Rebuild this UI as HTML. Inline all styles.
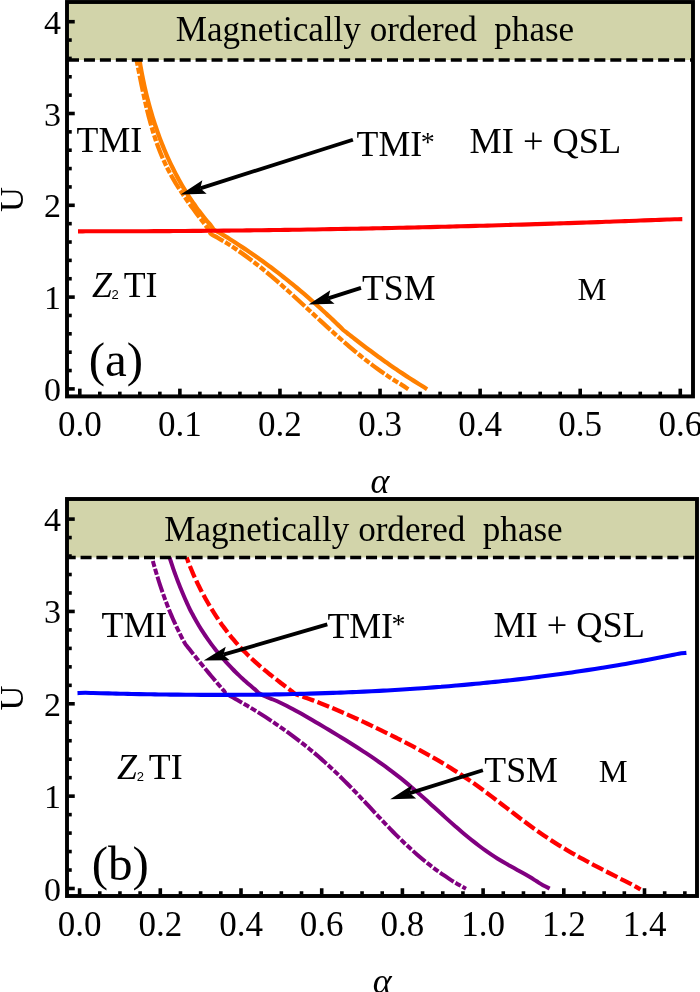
<!DOCTYPE html>
<html><head><meta charset="utf-8"><style>
html,body{margin:0;padding:0;background:#fff;}
body{width:700px;height:992px;overflow:hidden;}
svg{display:block;font-family:"Liberation Serif",serif;will-change:transform;}
</style></head><body>
<svg width="700" height="992" viewBox="0 0 700 992">
<defs>
<clipPath id="ca"><rect x="69" y="4" width="622" height="390.5"/></clipPath>
<clipPath id="cb"><rect x="69" y="501" width="626" height="393"/></clipPath>
</defs>
<rect width="700" height="992" fill="#fff"/>
<rect x="67.00" y="2.00" width="626.00" height="58.00" fill="#d2d4aa"/>
<g clip-path="url(#ca)">
<path d="M136.60,60.00 C136.75,60.78 137.19,63.11 137.49,64.67 C137.80,66.23 138.11,67.79 138.42,69.35 C138.73,70.91 139.04,72.47 139.36,74.04 C139.67,75.60 139.98,77.17 140.30,78.74 C140.61,80.31 140.93,81.88 141.25,83.45 C141.57,85.02 141.90,86.60 142.23,88.17 C142.55,89.74 142.89,91.32 143.22,92.89 C143.56,94.46 143.90,96.03 144.25,97.61 C144.59,99.18 144.95,100.75 145.30,102.32 C145.66,103.89 146.03,105.46 146.40,107.03 C146.77,108.59 147.15,110.16 147.54,111.72 C147.93,113.29 148.32,114.85 148.72,116.40 C149.13,117.96 149.54,119.52 149.96,121.07 C150.38,122.62 150.82,124.17 151.26,125.71 C151.70,127.26 152.15,128.80 152.62,130.33 C153.08,131.87 153.55,133.40 154.04,134.93 C154.53,136.45 155.03,137.98 155.54,139.49 C156.05,141.01 156.57,142.52 157.11,144.02 C157.65,145.53 158.20,147.02 158.77,148.52 C159.33,150.01 159.91,151.49 160.51,152.97 C161.10,154.45 161.71,155.92 162.34,157.38 C162.97,158.84 163.61,160.30 164.27,161.74 C164.93,163.19 165.61,164.63 166.30,166.06 C167.00,167.49 167.71,168.91 168.44,170.32 C169.17,171.73 169.92,173.13 170.69,174.53 C171.45,175.92 172.23,177.31 173.03,178.68 C173.83,180.06 174.64,181.43 175.47,182.79 C176.29,184.15 177.14,185.51 177.99,186.86 C178.84,188.20 179.71,189.55 180.59,190.88 C181.46,192.22 182.35,193.54 183.25,194.87 C184.15,196.19 185.05,197.51 185.97,198.82 C186.89,200.14 187.81,201.44 188.74,202.75 C189.67,204.05 190.61,205.35 191.55,206.65 C192.50,207.94 193.45,209.23 194.40,210.52 C195.35,211.81 196.31,213.10 197.27,214.38 C198.23,215.67 199.19,216.95 200.15,218.23 C201.12,219.51 202.08,220.78 203.05,222.06 C204.01,223.34 204.98,224.61 205.94,225.89 C206.90,227.16 207.98,228.36 208.82,229.71 C209.67,231.06 209.56,232.69 211.00,234.00 C212.44,235.31 215.34,236.33 217.49,237.56 C219.64,238.78 221.78,240.06 223.90,241.36 C226.01,242.65 228.11,243.96 230.19,245.30 C232.26,246.65 234.32,248.01 236.36,249.40 C238.40,250.78 240.42,252.19 242.43,253.62 C244.44,255.05 246.43,256.50 248.40,257.97 C250.38,259.44 252.34,260.93 254.29,262.43 C256.24,263.94 258.17,265.46 260.09,267.00 C262.01,268.53 263.92,270.09 265.82,271.65 C267.72,273.22 269.61,274.80 271.49,276.39 C273.37,277.98 275.23,279.59 277.09,281.20 C278.96,282.82 280.81,284.44 282.65,286.08 C284.50,287.71 286.34,289.35 288.17,291.00 C290.00,292.65 291.83,294.31 293.66,295.97 C295.48,297.63 297.30,299.30 299.12,300.97 C300.93,302.64 302.74,304.32 304.56,306.00 C306.37,307.67 308.18,309.35 309.99,311.03 C311.80,312.71 313.61,314.39 315.42,316.07 C317.23,317.75 319.04,319.43 320.86,321.10 C322.67,322.77 324.49,324.45 326.31,326.11 C328.13,327.78 329.96,329.44 331.79,331.10 C333.62,332.75 335.45,334.40 337.29,336.04 C339.13,337.69 340.98,339.32 342.83,340.94 C344.69,342.57 346.55,344.18 348.42,345.78 C350.30,347.39 352.18,348.98 354.07,350.56 C355.96,352.13 357.86,353.70 359.78,355.25 C361.69,356.80 363.61,358.34 365.55,359.86 C367.49,361.37 369.44,362.88 371.41,364.36 C373.37,365.85 375.35,367.32 377.35,368.76 C379.34,370.21 381.36,371.64 383.38,373.04 C385.41,374.45 387.46,375.83 389.52,377.20 C391.59,378.56 393.67,379.90 395.77,381.21 C397.87,382.52 400.05,383.74 402.13,385.07 C404.22,386.41 407.27,388.51 408.30,389.20" fill="none" stroke="#ff8000" stroke-width="4.3" stroke-dasharray="6.2 2 6.2 2 16.4 2" stroke-dashoffset="0.5"/>
<path d="M139.50,60.00 C139.62,60.77 139.97,63.09 140.23,64.63 C140.48,66.16 140.76,67.70 141.04,69.23 C141.32,70.76 141.61,72.30 141.91,73.83 C142.20,75.36 142.51,76.90 142.82,78.43 C143.13,79.96 143.45,81.49 143.78,83.02 C144.11,84.55 144.44,86.07 144.79,87.60 C145.13,89.13 145.49,90.65 145.85,92.18 C146.21,93.70 146.58,95.22 146.96,96.74 C147.34,98.26 147.73,99.78 148.13,101.30 C148.52,102.81 148.93,104.33 149.34,105.84 C149.76,107.35 150.18,108.86 150.62,110.36 C151.05,111.87 151.49,113.37 151.94,114.88 C152.39,116.38 152.85,117.88 153.32,119.37 C153.79,120.87 154.27,122.36 154.76,123.85 C155.25,125.34 155.74,126.82 156.25,128.30 C156.76,129.79 157.27,131.27 157.80,132.74 C158.33,134.21 158.86,135.69 159.41,137.15 C159.95,138.62 160.51,140.08 161.08,141.54 C161.64,143.00 162.22,144.46 162.80,145.91 C163.39,147.36 163.98,148.80 164.59,150.24 C165.20,151.69 165.81,153.12 166.44,154.55 C167.07,155.99 167.70,157.41 168.35,158.83 C169.00,160.26 169.65,161.67 170.32,163.08 C170.99,164.49 171.67,165.90 172.36,167.30 C173.05,168.70 173.75,170.10 174.46,171.48 C175.17,172.87 175.89,174.26 176.63,175.63 C177.36,177.01 178.10,178.38 178.86,179.74 C179.61,181.11 180.38,182.47 181.15,183.82 C181.93,185.17 182.72,186.51 183.52,187.85 C184.32,189.19 185.13,190.52 185.95,191.85 C186.78,193.17 187.61,194.49 188.46,195.80 C189.30,197.11 190.16,198.41 191.03,199.71 C191.90,201.00 192.78,202.29 193.67,203.57 C194.56,204.85 195.47,206.12 196.38,207.39 C197.30,208.65 198.23,209.91 199.17,211.16 C200.11,212.40 201.06,213.64 202.03,214.88 C202.99,216.11 203.97,217.33 204.96,218.55 C205.95,219.76 206.95,220.97 207.96,222.16 C208.98,223.36 210.07,224.51 211.04,225.73 C212.01,226.95 212.64,228.48 213.80,229.50 C214.96,230.52 216.62,231.07 218.01,231.88 C219.40,232.69 220.78,233.53 222.15,234.37 C223.53,235.21 224.91,236.05 226.28,236.90 C227.65,237.74 229.01,238.60 230.38,239.46 C231.74,240.31 233.10,241.18 234.46,242.05 C235.81,242.92 237.16,243.79 238.51,244.68 C239.86,245.56 241.21,246.44 242.55,247.33 C243.89,248.23 245.23,249.12 246.56,250.03 C247.89,250.93 249.22,251.84 250.55,252.75 C251.88,253.66 253.20,254.58 254.52,255.50 C255.84,256.43 257.16,257.35 258.47,258.29 C259.78,259.22 261.09,260.16 262.39,261.10 C263.70,262.05 265.00,263.00 266.30,263.95 C267.59,264.90 268.89,265.86 270.18,266.83 C271.47,267.79 272.76,268.76 274.04,269.73 C275.32,270.70 276.60,271.68 277.88,272.66 C279.15,273.65 280.42,274.63 281.69,275.63 C282.96,276.62 284.23,277.62 285.49,278.62 C286.75,279.62 288.01,280.62 289.26,281.63 C290.51,282.65 291.77,283.66 293.01,284.68 C294.26,285.70 295.50,286.72 296.74,287.75 C297.98,288.78 299.22,289.81 300.45,290.85 C301.68,291.89 302.91,292.93 304.14,293.97 C305.36,295.02 306.58,296.07 307.80,297.12 C309.02,298.18 310.23,299.24 311.44,300.30 C312.65,301.36 313.86,302.43 315.06,303.50 C316.27,304.57 317.47,305.64 318.66,306.72 C319.86,307.80 321.05,308.88 322.24,309.97 C323.43,311.06 324.62,312.15 325.80,313.24 C326.98,314.34 328.16,315.43 329.33,316.54 C330.51,317.64 331.68,318.74 332.85,319.85 C334.02,320.96 335.18,322.08 336.34,323.19 C337.50,324.31 338.67,325.42 339.81,326.55 C340.95,327.69 341.98,328.93 343.20,330.00 C344.42,331.07 345.82,331.95 347.11,332.95 C348.40,333.95 349.67,334.98 350.95,335.98 C352.23,336.99 353.52,338.00 354.81,339.00 C356.10,340.00 357.39,341.00 358.68,342.00 C359.97,342.99 361.27,343.98 362.56,344.97 C363.86,345.96 365.16,346.94 366.46,347.92 C367.77,348.90 369.07,349.88 370.38,350.85 C371.69,351.83 373.00,352.80 374.31,353.76 C375.63,354.73 376.94,355.69 378.26,356.64 C379.58,357.60 380.90,358.55 382.23,359.50 C383.55,360.45 384.88,361.39 386.21,362.33 C387.54,363.27 388.88,364.21 390.22,365.14 C391.55,366.07 392.89,367.00 394.24,367.92 C395.58,368.84 396.93,369.76 398.28,370.67 C399.63,371.58 400.99,372.49 402.34,373.39 C403.70,374.29 405.06,375.19 406.43,376.09 C407.79,376.98 409.16,377.87 410.53,378.75 C411.90,379.63 413.28,380.51 414.66,381.38 C416.04,382.25 417.42,383.12 418.81,383.98 C420.19,384.85 421.60,385.68 422.98,386.55 C424.36,387.42 426.41,388.76 427.10,389.20" fill="none" stroke="#ff8000" stroke-width="4.3"/>
<path d="M78.00,231.40 C79.28,231.39 83.10,231.33 85.65,231.31 C88.20,231.30 90.75,231.31 93.30,231.31 C95.85,231.31 98.40,231.31 100.95,231.31 C103.50,231.31 106.06,231.31 108.61,231.30 C111.16,231.30 113.71,231.29 116.26,231.29 C118.81,231.28 121.36,231.28 123.91,231.27 C126.46,231.27 129.01,231.26 131.56,231.25 C134.11,231.24 136.66,231.23 139.21,231.23 C141.76,231.22 144.31,231.21 146.86,231.20 C149.42,231.18 151.97,231.17 154.52,231.16 C157.07,231.15 159.62,231.14 162.17,231.12 C164.72,231.11 167.27,231.09 169.82,231.08 C172.37,231.06 174.92,231.05 177.47,231.03 C180.02,231.01 182.57,231.00 185.12,230.98 C187.67,230.96 190.22,230.94 192.77,230.92 C195.32,230.90 197.87,230.88 200.43,230.86 C202.98,230.84 205.53,230.82 208.08,230.79 C210.63,230.77 213.18,230.75 215.73,230.72 C218.28,230.70 220.83,230.68 223.38,230.65 C225.93,230.63 228.48,230.60 231.03,230.57 C233.58,230.55 236.13,230.52 238.68,230.49 C241.23,230.46 243.78,230.43 246.33,230.40 C248.88,230.37 251.43,230.34 253.98,230.31 C256.53,230.28 259.08,230.25 261.63,230.22 C264.18,230.18 266.73,230.15 269.28,230.12 C271.83,230.08 274.38,230.05 276.93,230.01 C279.48,229.98 282.03,229.94 284.58,229.91 C287.13,229.87 289.69,229.83 292.24,229.79 C294.79,229.76 297.34,229.72 299.89,229.68 C302.44,229.64 304.99,229.60 307.54,229.56 C310.09,229.52 312.64,229.47 315.19,229.43 C317.74,229.39 320.29,229.35 322.84,229.30 C325.39,229.26 327.94,229.22 330.49,229.17 C333.04,229.13 335.59,229.08 338.14,229.03 C340.69,228.99 343.24,228.94 345.79,228.89 C348.34,228.85 350.89,228.80 353.44,228.75 C355.99,228.70 358.54,228.65 361.09,228.60 C363.64,228.55 366.19,228.50 368.74,228.45 C371.29,228.40 373.84,228.34 376.39,228.29 C378.94,228.24 381.49,228.18 384.04,228.13 C386.58,228.08 389.13,228.02 391.68,227.97 C394.23,227.91 396.78,227.85 399.33,227.80 C401.88,227.74 404.43,227.68 406.98,227.62 C409.53,227.57 412.08,227.51 414.63,227.45 C417.18,227.39 419.73,227.33 422.28,227.27 C424.83,227.21 427.38,227.15 429.93,227.08 C432.48,227.02 435.03,226.96 437.58,226.90 C440.13,226.83 442.68,226.77 445.23,226.70 C447.78,226.64 450.33,226.57 452.88,226.51 C455.43,226.44 457.98,226.38 460.53,226.31 C463.08,226.24 465.63,226.17 468.17,226.11 C470.72,226.04 473.27,225.97 475.82,225.90 C478.37,225.83 480.92,225.76 483.47,225.69 C486.02,225.62 488.57,225.54 491.12,225.47 C493.67,225.40 496.22,225.33 498.77,225.25 C501.32,225.18 503.87,225.11 506.42,225.03 C508.97,224.96 511.51,224.88 514.06,224.81 C516.61,224.73 519.16,224.65 521.71,224.58 C524.26,224.50 526.81,224.42 529.36,224.34 C531.91,224.27 534.46,224.19 537.01,224.11 C539.56,224.03 542.11,223.95 544.66,223.87 C547.20,223.79 549.75,223.71 552.30,223.62 C554.85,223.54 557.40,223.46 559.95,223.38 C562.50,223.29 565.05,223.21 567.60,223.12 C570.15,223.04 572.70,222.96 575.25,222.87 C577.79,222.78 580.34,222.70 582.89,222.61 C585.44,222.52 587.99,222.44 590.54,222.35 C593.09,222.26 595.64,222.17 598.19,222.08 C600.74,222.00 603.28,221.91 605.83,221.82 C608.38,221.73 610.93,221.63 613.48,221.54 C616.03,221.45 618.58,221.36 621.13,221.27 C623.68,221.17 626.22,221.08 628.77,220.99 C631.32,220.89 633.87,220.80 636.42,220.71 C638.97,220.61 641.52,220.52 644.07,220.42 C646.61,220.32 649.16,220.23 651.71,220.13 C654.26,220.03 656.81,219.94 659.36,219.84 C661.91,219.74 664.46,219.64 667.00,219.54 C669.55,219.44 672.10,219.31 674.65,219.24 C677.20,219.17 681.02,219.12 682.30,219.10" fill="none" stroke="#ff0000" stroke-width="4.1"/>
</g>
<line x1="68.00" y1="60.00" x2="693.00" y2="60.00" stroke="#000" stroke-width="3.30" stroke-dasharray="11 4.95" stroke-dashoffset="0.00"/>
<line x1="79.80" y1="394.95" x2="79.80" y2="388.65" stroke="#000" stroke-width="3.60"/>
<line x1="99.82" y1="394.95" x2="99.82" y2="391.65" stroke="#000" stroke-width="3.60"/>
<line x1="119.83" y1="394.95" x2="119.83" y2="391.65" stroke="#000" stroke-width="3.60"/>
<line x1="139.85" y1="394.95" x2="139.85" y2="391.65" stroke="#000" stroke-width="3.60"/>
<line x1="159.86" y1="394.95" x2="159.86" y2="391.65" stroke="#000" stroke-width="3.60"/>
<line x1="179.88" y1="394.95" x2="179.88" y2="388.65" stroke="#000" stroke-width="3.60"/>
<line x1="199.90" y1="394.95" x2="199.90" y2="391.65" stroke="#000" stroke-width="3.60"/>
<line x1="219.91" y1="394.95" x2="219.91" y2="391.65" stroke="#000" stroke-width="3.60"/>
<line x1="239.93" y1="394.95" x2="239.93" y2="391.65" stroke="#000" stroke-width="3.60"/>
<line x1="259.94" y1="394.95" x2="259.94" y2="391.65" stroke="#000" stroke-width="3.60"/>
<line x1="279.96" y1="394.95" x2="279.96" y2="388.65" stroke="#000" stroke-width="3.60"/>
<line x1="299.98" y1="394.95" x2="299.98" y2="391.65" stroke="#000" stroke-width="3.60"/>
<line x1="319.99" y1="394.95" x2="319.99" y2="391.65" stroke="#000" stroke-width="3.60"/>
<line x1="340.01" y1="394.95" x2="340.01" y2="391.65" stroke="#000" stroke-width="3.60"/>
<line x1="360.02" y1="394.95" x2="360.02" y2="391.65" stroke="#000" stroke-width="3.60"/>
<line x1="380.04" y1="394.95" x2="380.04" y2="388.65" stroke="#000" stroke-width="3.60"/>
<line x1="400.06" y1="394.95" x2="400.06" y2="391.65" stroke="#000" stroke-width="3.60"/>
<line x1="420.07" y1="394.95" x2="420.07" y2="391.65" stroke="#000" stroke-width="3.60"/>
<line x1="440.09" y1="394.95" x2="440.09" y2="391.65" stroke="#000" stroke-width="3.60"/>
<line x1="460.10" y1="394.95" x2="460.10" y2="391.65" stroke="#000" stroke-width="3.60"/>
<line x1="480.12" y1="394.95" x2="480.12" y2="388.65" stroke="#000" stroke-width="3.60"/>
<line x1="500.14" y1="394.95" x2="500.14" y2="391.65" stroke="#000" stroke-width="3.60"/>
<line x1="520.15" y1="394.95" x2="520.15" y2="391.65" stroke="#000" stroke-width="3.60"/>
<line x1="540.17" y1="394.95" x2="540.17" y2="391.65" stroke="#000" stroke-width="3.60"/>
<line x1="560.18" y1="394.95" x2="560.18" y2="391.65" stroke="#000" stroke-width="3.60"/>
<line x1="580.20" y1="394.95" x2="580.20" y2="388.65" stroke="#000" stroke-width="3.60"/>
<line x1="600.22" y1="394.95" x2="600.22" y2="391.65" stroke="#000" stroke-width="3.60"/>
<line x1="620.23" y1="394.95" x2="620.23" y2="391.65" stroke="#000" stroke-width="3.60"/>
<line x1="640.25" y1="394.95" x2="640.25" y2="391.65" stroke="#000" stroke-width="3.60"/>
<line x1="660.26" y1="394.95" x2="660.26" y2="391.65" stroke="#000" stroke-width="3.60"/>
<line x1="680.28" y1="394.95" x2="680.28" y2="388.65" stroke="#000" stroke-width="3.60"/>
<line x1="68.45" y1="388.90" x2="74.75" y2="388.90" stroke="#000" stroke-width="3.60"/>
<line x1="68.45" y1="370.54" x2="71.75" y2="370.54" stroke="#000" stroke-width="3.60"/>
<line x1="68.45" y1="352.18" x2="71.75" y2="352.18" stroke="#000" stroke-width="3.60"/>
<line x1="68.45" y1="333.82" x2="71.75" y2="333.82" stroke="#000" stroke-width="3.60"/>
<line x1="68.45" y1="315.46" x2="71.75" y2="315.46" stroke="#000" stroke-width="3.60"/>
<line x1="68.45" y1="297.10" x2="74.75" y2="297.10" stroke="#000" stroke-width="3.60"/>
<line x1="68.45" y1="278.74" x2="71.75" y2="278.74" stroke="#000" stroke-width="3.60"/>
<line x1="68.45" y1="260.38" x2="71.75" y2="260.38" stroke="#000" stroke-width="3.60"/>
<line x1="68.45" y1="242.02" x2="71.75" y2="242.02" stroke="#000" stroke-width="3.60"/>
<line x1="68.45" y1="223.66" x2="71.75" y2="223.66" stroke="#000" stroke-width="3.60"/>
<line x1="68.45" y1="205.30" x2="74.75" y2="205.30" stroke="#000" stroke-width="3.60"/>
<line x1="68.45" y1="186.94" x2="71.75" y2="186.94" stroke="#000" stroke-width="3.60"/>
<line x1="68.45" y1="168.58" x2="71.75" y2="168.58" stroke="#000" stroke-width="3.60"/>
<line x1="68.45" y1="150.22" x2="71.75" y2="150.22" stroke="#000" stroke-width="3.60"/>
<line x1="68.45" y1="131.86" x2="71.75" y2="131.86" stroke="#000" stroke-width="3.60"/>
<line x1="68.45" y1="113.50" x2="74.75" y2="113.50" stroke="#000" stroke-width="3.60"/>
<line x1="68.45" y1="95.14" x2="71.75" y2="95.14" stroke="#000" stroke-width="3.60"/>
<line x1="68.45" y1="76.78" x2="71.75" y2="76.78" stroke="#000" stroke-width="3.60"/>
<line x1="68.45" y1="58.42" x2="71.75" y2="58.42" stroke="#000" stroke-width="3.60"/>
<line x1="68.45" y1="40.06" x2="71.75" y2="40.06" stroke="#000" stroke-width="3.60"/>
<line x1="68.45" y1="21.70" x2="74.75" y2="21.70" stroke="#000" stroke-width="3.60"/>
<rect x="67.00" y="2.00" width="626.00" height="394.40" fill="none" stroke="#000" stroke-width="3.90"/>
<line x1="352.90" y1="139.70" x2="200.23" y2="188.37" stroke="#000" stroke-width="3.80"/><polygon points="180.70,194.60 202.39,180.34 200.23,188.37 206.65,193.68" fill="#000"/>
<line x1="361.00" y1="287.90" x2="328.13" y2="298.38" stroke="#000" stroke-width="3.80"/><polygon points="308.60,304.60 330.29,290.34 328.13,298.38 334.55,303.68" fill="#000"/>
<text x="375.00" y="41.30" font-size="35.10" text-anchor="middle">Magnetically ordered&#160; phase</text>
<text x="76.60" y="152.30" font-size="35.80" text-anchor="start">TMI</text>
<text x="356.60" y="155.50" font-size="35.80" text-anchor="start">TMI<tspan font-size="28" dx="-1.5" dy="-5">*</tspan></text>
<text x="469.50" y="152.60" font-size="36.30" text-anchor="start">MI + QSL</text>
<text x="91.90" y="296.50" font-size="35.80" text-anchor="start"><tspan font-style="italic">Z</tspan></text>
<text x="111.6" y="299.2" font-size="13" font-family="Liberation Sans">2</text>
<text x="123.70" y="296.50" font-size="35.80" text-anchor="start">TI</text>
<text x="362.00" y="299.60" font-size="35.80" text-anchor="start">TSM</text>
<text x="577.50" y="299.60" font-size="32.50" text-anchor="start">M</text>
<text x="88.80" y="375.60" font-size="49.00" text-anchor="start">(a)</text>
<text x="380.00" y="493.00" font-size="36.00" text-anchor="middle"><tspan font-style="italic">&#945;</tspan></text>
<text x="61.00" y="400.90" font-size="34.00" text-anchor="end">0</text>
<text x="61.00" y="309.10" font-size="34.00" text-anchor="end">1</text>
<text x="61.00" y="217.30" font-size="34.00" text-anchor="end">2</text>
<text x="61.00" y="125.50" font-size="34.00" text-anchor="end">3</text>
<text x="61.00" y="33.70" font-size="34.00" text-anchor="end">4</text>
<text x="79.80" y="436.40" font-size="35.00" text-anchor="middle">0.0</text>
<text x="179.88" y="436.40" font-size="35.00" text-anchor="middle">0.1</text>
<text x="279.96" y="436.40" font-size="35.00" text-anchor="middle">0.2</text>
<text x="380.04" y="436.40" font-size="35.00" text-anchor="middle">0.3</text>
<text x="480.12" y="436.40" font-size="35.00" text-anchor="middle">0.4</text>
<text x="580.20" y="436.40" font-size="35.00" text-anchor="middle">0.5</text>
<text x="680.28" y="436.40" font-size="35.00" text-anchor="middle">0.6</text>
<text x="23.2" y="199.4" font-size="34.6" text-anchor="middle" transform="rotate(-90 23.2 199.4)">U</text>
<rect x="67.00" y="499.00" width="630.00" height="58.50" fill="#d2d4aa"/>
<g clip-path="url(#cb)">
<path d="M152.00,557.50 C152.20,558.29 152.78,560.66 153.20,562.24 C153.62,563.81 154.07,565.37 154.51,566.94 C154.96,568.51 155.41,570.07 155.88,571.63 C156.34,573.20 156.81,574.76 157.29,576.32 C157.76,577.87 158.25,579.43 158.75,580.99 C159.24,582.54 159.75,584.09 160.26,585.64 C160.77,587.19 161.29,588.74 161.83,590.28 C162.36,591.82 162.90,593.36 163.45,594.90 C164.00,596.44 164.56,597.97 165.12,599.50 C165.69,601.03 166.27,602.56 166.86,604.08 C167.44,605.60 168.04,607.12 168.65,608.63 C169.26,610.15 169.87,611.66 170.50,613.16 C171.13,614.67 171.76,616.17 172.41,617.67 C173.06,619.16 173.72,620.66 174.39,622.14 C175.05,623.63 175.73,625.11 176.42,626.59 C177.11,628.07 177.81,629.54 178.52,631.00 C179.23,632.47 179.96,633.93 180.69,635.38 C181.42,636.84 182.15,638.29 182.92,639.73 C183.69,641.16 184.55,642.85 185.30,644.00 C186.05,645.15 186.71,645.75 187.41,646.63 C188.11,647.51 188.81,648.40 189.51,649.28 C190.21,650.16 190.91,651.04 191.61,651.92 C192.31,652.80 193.01,653.68 193.71,654.56 C194.42,655.44 195.12,656.31 195.82,657.19 C196.53,658.07 197.24,658.94 197.94,659.82 C198.65,660.69 199.36,661.57 200.07,662.44 C200.77,663.31 201.49,664.19 202.20,665.06 C202.91,665.93 203.62,666.80 204.33,667.67 C205.05,668.54 205.76,669.41 206.48,670.27 C207.20,671.14 207.91,672.01 208.63,672.87 C209.35,673.74 210.07,674.60 210.79,675.46 C211.51,676.32 212.24,677.19 212.96,678.05 C213.69,678.90 214.41,679.76 215.14,680.62 C215.87,681.48 216.60,682.33 217.33,683.19 C218.06,684.04 218.79,684.89 219.52,685.75 C220.26,686.60 220.99,687.45 221.73,688.29 C222.46,689.14 223.23,689.97 223.94,690.83 C224.66,691.70 224.71,692.50 226.00,693.50 C227.29,694.50 229.75,695.76 231.66,696.85 C233.56,697.95 235.51,698.97 237.43,700.05 C239.35,701.13 241.26,702.22 243.17,703.33 C245.07,704.43 246.97,705.55 248.86,706.68 C250.76,707.81 252.65,708.95 254.53,710.11 C256.41,711.26 258.28,712.43 260.15,713.61 C262.01,714.79 263.87,715.98 265.73,717.18 C267.58,718.38 269.43,719.60 271.26,720.82 C273.10,722.05 274.93,723.29 276.76,724.54 C278.58,725.78 280.40,727.05 282.20,728.32 C284.01,729.59 285.81,730.87 287.60,732.17 C289.39,733.47 291.17,734.77 292.94,736.09 C294.71,737.41 296.48,738.74 298.23,740.09 C299.98,741.43 301.73,742.79 303.46,744.16 C305.19,745.52 306.92,746.90 308.63,748.30 C310.34,749.69 312.04,751.09 313.73,752.51 C315.42,753.93 317.10,755.36 318.77,756.80 C320.44,758.25 322.09,759.70 323.74,761.17 C325.38,762.64 327.01,764.12 328.64,765.61 C330.26,767.10 331.87,768.60 333.47,770.12 C335.07,771.63 336.66,773.15 338.24,774.69 C339.82,776.22 341.40,777.77 342.96,779.32 C344.53,780.87 346.08,782.43 347.63,784.00 C349.18,785.56 350.72,787.14 352.26,788.72 C353.80,790.30 355.33,791.89 356.85,793.48 C358.38,795.08 359.90,796.67 361.41,798.28 C362.93,799.88 364.44,801.49 365.95,803.10 C367.46,804.71 368.96,806.33 370.47,807.94 C371.97,809.55 373.48,811.17 374.98,812.78 C376.49,814.40 377.99,816.01 379.50,817.62 C381.01,819.23 382.52,820.84 384.04,822.44 C385.56,824.04 387.08,825.64 388.61,827.23 C390.14,828.82 391.67,830.40 393.22,831.98 C394.76,833.55 396.32,835.12 397.88,836.67 C399.45,838.22 401.02,839.76 402.61,841.29 C404.20,842.82 405.79,844.34 407.41,845.84 C409.02,847.34 410.65,848.83 412.28,850.30 C413.92,851.77 415.57,853.23 417.24,854.67 C418.91,856.11 420.59,857.54 422.28,858.95 C423.98,860.36 425.68,861.75 427.41,863.12 C429.13,864.49 430.87,865.85 432.63,867.18 C434.38,868.51 436.15,869.83 437.94,871.12 C439.73,872.42 441.53,873.69 443.35,874.94 C445.17,876.19 447.01,877.42 448.86,878.63 C450.72,879.83 452.59,881.02 454.48,882.18 C456.37,883.34 458.29,884.48 460.21,885.59 C462.13,886.69 465.03,888.26 466.00,888.80" fill="none" stroke="#800080" stroke-width="4.0" stroke-dasharray="6.2 2 6.2 2 16.4 2" stroke-dashoffset="-3.5"/>
<path d="M169.60,557.50 C169.75,557.97 170.19,559.39 170.49,560.34 C170.79,561.28 171.09,562.22 171.40,563.16 C171.71,564.11 172.02,565.05 172.33,565.98 C172.65,566.92 172.97,567.86 173.29,568.80 C173.62,569.73 173.94,570.67 174.27,571.60 C174.61,572.53 174.94,573.46 175.28,574.39 C175.62,575.32 175.96,576.25 176.31,577.18 C176.65,578.11 177.00,579.04 177.36,579.96 C177.71,580.89 178.07,581.81 178.43,582.73 C178.79,583.65 179.15,584.58 179.52,585.49 C179.88,586.41 180.25,587.33 180.63,588.25 C181.00,589.17 181.38,590.08 181.76,591.00 C182.14,591.91 182.52,592.82 182.91,593.74 C183.30,594.65 183.69,595.56 184.08,596.47 C184.47,597.38 184.87,598.28 185.27,599.19 C185.67,600.10 186.07,601.00 186.48,601.90 C186.88,602.81 187.29,603.71 187.70,604.61 C188.11,605.51 188.53,606.41 188.94,607.31 C189.36,608.21 189.63,608.88 190.20,610.00 C190.77,611.12 191.65,612.67 192.38,614.01 C193.10,615.35 193.81,616.71 194.54,618.04 C195.28,619.38 196.03,620.71 196.79,622.03 C197.55,623.35 198.33,624.66 199.11,625.96 C199.90,627.26 200.70,628.56 201.52,629.84 C202.33,631.13 203.16,632.40 203.99,633.67 C204.83,634.94 205.68,636.19 206.55,637.44 C207.41,638.69 208.28,639.93 209.17,641.16 C210.06,642.40 210.95,643.62 211.86,644.83 C212.77,646.05 213.69,647.25 214.63,648.45 C215.56,649.64 216.50,650.83 217.46,652.01 C218.41,653.18 219.38,654.35 220.36,655.51 C221.33,656.67 222.32,657.82 223.32,658.96 C224.32,660.10 225.32,661.24 226.34,662.36 C227.36,663.48 228.39,664.60 229.43,665.70 C230.47,666.81 231.52,667.90 232.58,668.99 C233.63,670.07 234.70,671.15 235.78,672.22 C236.86,673.29 237.95,674.35 239.04,675.40 C240.14,676.45 241.24,677.49 242.36,678.52 C243.47,679.55 244.60,680.57 245.73,681.58 C246.86,682.59 248.00,683.60 249.15,684.59 C250.30,685.58 251.46,686.57 252.62,687.54 C253.79,688.51 255.00,689.44 256.14,690.43 C257.29,691.43 257.84,692.44 259.50,693.50 C261.16,694.56 263.85,695.77 266.10,696.77 C268.36,697.77 270.73,698.55 273.02,699.50 C275.31,700.45 277.59,701.42 279.84,702.45 C282.09,703.48 284.32,704.57 286.54,705.68 C288.75,706.80 290.95,707.96 293.13,709.14 C295.32,710.32 297.49,711.54 299.66,712.76 C301.83,713.99 303.98,715.24 306.14,716.50 C308.29,717.75 310.44,719.01 312.59,720.28 C314.74,721.54 316.90,722.81 319.04,724.08 C321.19,725.35 323.34,726.62 325.49,727.89 C327.63,729.17 329.78,730.45 331.92,731.73 C334.06,733.02 336.19,734.31 338.32,735.60 C340.46,736.90 342.58,738.20 344.71,739.52 C346.83,740.83 348.95,742.14 351.06,743.47 C353.17,744.80 355.27,746.14 357.37,747.48 C359.47,748.83 361.56,750.19 363.64,751.56 C365.72,752.93 367.79,754.30 369.86,755.70 C371.92,757.09 373.98,758.49 376.02,759.91 C378.07,761.33 380.10,762.76 382.12,764.21 C384.15,765.66 386.16,767.12 388.16,768.60 C390.16,770.08 392.15,771.57 394.12,773.08 C396.10,774.60 398.06,776.13 400.01,777.67 C401.96,779.22 403.89,780.79 405.81,782.37 C407.73,783.96 409.64,785.56 411.53,787.18 C413.43,788.79 415.32,790.43 417.19,792.07 C419.07,793.71 420.94,795.36 422.80,797.02 C424.66,798.68 426.52,800.35 428.37,802.03 C430.23,803.70 432.07,805.38 433.92,807.06 C435.77,808.74 437.62,810.42 439.47,812.10 C441.32,813.77 443.17,815.45 445.02,817.12 C446.87,818.80 448.73,820.47 450.59,822.12 C452.46,823.78 454.33,825.43 456.21,827.07 C458.09,828.71 459.97,830.34 461.87,831.95 C463.77,833.56 465.67,835.17 467.60,836.74 C469.52,838.32 471.45,839.89 473.41,841.43 C475.36,842.97 477.32,844.49 479.31,845.99 C481.30,847.48 483.30,848.96 485.32,850.40 C487.35,851.85 489.39,853.27 491.46,854.65 C493.53,856.04 495.62,857.39 497.74,858.72 C499.85,860.04 502.00,861.32 504.16,862.58 C506.32,863.84 508.51,865.06 510.70,866.29 C512.89,867.51 515.10,868.71 517.29,869.93 C519.49,871.14 521.69,872.34 523.86,873.58 C526.03,874.82 528.20,876.06 530.34,877.34 C532.47,878.62 534.55,879.97 536.66,881.28 C538.76,882.60 540.78,884.02 542.96,885.22 C545.13,886.42 548.58,887.95 549.70,888.50" fill="none" stroke="#800080" stroke-width="4.0"/>
<path d="M186.70,557.50 C186.93,558.15 187.59,560.11 188.07,561.40 C188.54,562.68 189.05,563.95 189.55,565.22 C190.06,566.50 190.58,567.77 191.10,569.03 C191.63,570.30 192.16,571.56 192.71,572.82 C193.25,574.08 193.81,575.34 194.37,576.59 C194.94,577.84 195.51,579.09 196.10,580.33 C196.68,581.58 197.27,582.82 197.87,584.06 C198.48,585.29 199.09,586.53 199.71,587.75 C200.33,588.98 200.96,590.21 201.60,591.43 C202.23,592.65 202.88,593.86 203.54,595.07 C204.19,596.29 204.86,597.49 205.53,598.69 C206.20,599.90 206.88,601.09 207.57,602.29 C208.26,603.48 208.96,604.66 209.67,605.85 C210.37,607.03 211.09,608.21 211.81,609.38 C212.53,610.55 213.26,611.72 214.00,612.88 C214.74,614.04 215.48,615.20 216.24,616.35 C216.99,617.49 217.76,618.64 218.53,619.78 C219.30,620.91 220.08,622.04 220.87,623.17 C221.65,624.29 222.45,625.41 223.26,626.52 C224.06,627.63 224.88,628.73 225.70,629.83 C226.53,630.93 227.36,632.01 228.20,633.10 C229.05,634.18 229.90,635.25 230.76,636.31 C231.62,637.38 232.49,638.43 233.37,639.48 C234.25,640.53 235.14,641.56 236.04,642.59 C236.95,643.62 237.86,644.64 238.78,645.65 C239.70,646.67 240.63,647.67 241.57,648.66 C242.51,649.65 243.46,650.63 244.42,651.61 C245.38,652.58 246.35,653.55 247.33,654.50 C248.30,655.46 249.29,656.41 250.28,657.35 C251.28,658.29 252.28,659.22 253.29,660.15 C254.30,661.07 255.32,661.99 256.34,662.90 C257.37,663.81 258.40,664.72 259.43,665.62 C260.47,666.52 261.52,667.41 262.56,668.29 C263.61,669.18 264.67,670.06 265.73,670.94 C266.79,671.81 267.85,672.68 268.92,673.55 C269.99,674.42 271.06,675.28 272.14,676.14 C273.21,676.99 274.29,677.85 275.38,678.70 C276.46,679.55 277.55,680.39 278.64,681.23 C279.72,682.08 280.82,682.92 281.91,683.76 C283.00,684.59 284.10,685.43 285.19,686.26 C286.29,687.09 287.39,687.92 288.49,688.75 C289.58,689.58 290.70,690.40 291.78,691.24 C292.87,692.08 293.02,692.85 295.00,693.80 C296.98,694.75 300.79,695.90 303.69,696.95 C306.58,698.01 309.48,699.04 312.36,700.13 C315.25,701.21 318.12,702.32 320.99,703.45 C323.86,704.58 326.71,705.74 329.57,706.92 C332.42,708.09 335.26,709.29 338.10,710.51 C340.94,711.73 343.77,712.97 346.59,714.22 C349.42,715.47 352.24,716.74 355.05,718.02 C357.87,719.31 360.67,720.61 363.48,721.92 C366.28,723.23 369.08,724.55 371.87,725.88 C374.67,727.21 377.46,728.56 380.24,729.91 C383.03,731.26 385.81,732.62 388.58,733.99 C391.36,735.36 394.13,736.74 396.89,738.14 C399.66,739.53 402.41,740.94 405.16,742.36 C407.91,743.78 410.65,745.21 413.38,746.66 C416.11,748.11 418.83,749.58 421.54,751.06 C424.25,752.55 426.96,754.05 429.64,755.57 C432.33,757.09 435.01,758.63 437.68,760.19 C440.34,761.75 442.99,763.33 445.63,764.93 C448.27,766.54 450.89,768.16 453.50,769.81 C456.11,771.46 458.70,773.13 461.28,774.83 C463.86,776.53 466.42,778.26 468.96,780.01 C471.51,781.76 474.03,783.54 476.54,785.34 C479.05,787.14 481.55,788.97 484.04,790.81 C486.53,792.65 489.00,794.51 491.47,796.37 C493.94,798.24 496.40,800.12 498.86,802.00 C501.32,803.88 503.78,805.77 506.23,807.66 C508.69,809.54 511.14,811.43 513.60,813.31 C516.06,815.19 518.52,817.07 521.00,818.93 C523.47,820.79 525.94,822.64 528.43,824.48 C530.92,826.31 533.42,828.13 535.93,829.92 C538.45,831.71 540.97,833.49 543.52,835.23 C546.06,836.97 548.63,838.69 551.21,840.37 C553.79,842.05 556.40,843.70 559.02,845.32 C561.64,846.94 564.29,848.53 566.94,850.10 C569.60,851.67 572.27,853.21 574.95,854.74 C577.64,856.26 580.33,857.76 583.04,859.24 C585.75,860.73 588.47,862.19 591.20,863.65 C593.93,865.10 596.66,866.54 599.41,867.97 C602.15,869.40 604.90,870.82 607.65,872.23 C610.40,873.64 613.16,875.05 615.92,876.46 C618.67,877.86 621.43,879.26 624.19,880.67 C626.95,882.07 629.74,883.41 632.46,884.89 C635.18,886.36 639.16,888.73 640.50,889.50" fill="none" stroke="#ff0000" stroke-width="4.3" stroke-dasharray="12.5 3.5" stroke-dashoffset="6.9"/>
<path d="M77.50,693.10 C78.79,693.05 82.66,692.81 85.24,692.80 C87.82,692.78 90.40,692.94 92.97,693.02 C95.55,693.09 98.13,693.16 100.71,693.22 C103.29,693.29 105.87,693.36 108.45,693.42 C111.03,693.49 113.60,693.55 116.18,693.61 C118.76,693.67 121.34,693.73 123.92,693.79 C126.50,693.84 129.08,693.90 131.66,693.95 C134.24,694.00 136.82,694.05 139.40,694.10 C141.98,694.15 144.56,694.20 147.15,694.24 C149.73,694.28 152.31,694.33 154.89,694.37 C157.47,694.41 160.05,694.44 162.63,694.48 C165.21,694.51 167.79,694.55 170.37,694.58 C172.96,694.61 175.54,694.64 178.12,694.66 C180.70,694.69 183.28,694.71 185.86,694.73 C188.44,694.76 191.02,694.77 193.61,694.79 C196.19,694.81 198.77,694.82 201.35,694.83 C203.93,694.84 206.51,694.85 209.10,694.86 C211.68,694.86 214.26,694.87 216.84,694.87 C219.42,694.87 222.00,694.87 224.59,694.86 C227.17,694.86 229.75,694.85 232.33,694.84 C234.91,694.83 237.49,694.82 240.08,694.80 C242.66,694.79 245.24,694.77 247.82,694.75 C250.40,694.73 252.98,694.70 255.56,694.67 C258.15,694.65 260.73,694.62 263.31,694.58 C265.89,694.55 268.47,694.51 271.05,694.47 C273.63,694.43 276.21,694.39 278.79,694.35 C281.38,694.30 283.96,694.25 286.54,694.20 C289.12,694.15 291.70,694.09 294.28,694.03 C296.86,693.98 299.44,693.91 302.02,693.85 C304.60,693.78 307.18,693.72 309.76,693.64 C312.34,693.57 314.92,693.50 317.50,693.42 C320.08,693.34 322.66,693.26 325.24,693.17 C327.81,693.09 330.39,693.00 332.97,692.91 C335.55,692.81 338.13,692.72 340.71,692.62 C343.29,692.52 345.86,692.42 348.44,692.31 C351.02,692.20 353.60,692.09 356.18,691.98 C358.75,691.87 361.33,691.75 363.91,691.63 C366.48,691.50 369.06,691.38 371.64,691.25 C374.21,691.12 376.79,690.99 379.37,690.85 C381.94,690.71 384.52,690.57 387.09,690.43 C389.67,690.28 392.24,690.14 394.82,689.98 C397.39,689.83 399.97,689.67 402.54,689.51 C405.12,689.35 407.69,689.19 410.26,689.02 C412.84,688.85 415.41,688.68 417.98,688.50 C420.56,688.32 423.13,688.14 425.70,687.96 C428.27,687.77 430.84,687.58 433.42,687.39 C435.99,687.19 438.56,686.99 441.13,686.79 C443.70,686.59 446.27,686.38 448.84,686.17 C451.41,685.96 453.98,685.74 456.55,685.52 C459.12,685.30 461.69,685.08 464.26,684.85 C466.82,684.62 469.39,684.39 471.96,684.15 C474.53,683.91 477.09,683.67 479.66,683.42 C482.23,683.17 484.79,682.92 487.36,682.66 C489.93,682.41 492.49,682.14 495.06,681.88 C497.62,681.61 500.19,681.34 502.75,681.06 C505.31,680.79 507.88,680.51 510.44,680.22 C513.00,679.94 515.56,679.65 518.13,679.35 C520.69,679.06 523.25,678.76 525.81,678.45 C528.37,678.15 530.93,677.84 533.49,677.52 C536.05,677.21 538.61,676.88 541.17,676.56 C543.73,676.23 546.29,675.90 548.84,675.57 C551.40,675.23 553.96,674.89 556.52,674.55 C559.07,674.20 561.63,673.85 564.18,673.49 C566.74,673.14 569.29,672.77 571.85,672.41 C574.40,672.04 576.96,671.67 579.51,671.29 C582.06,670.91 584.61,670.53 587.17,670.14 C589.72,669.75 592.27,669.36 594.82,668.96 C597.37,668.56 599.92,668.15 602.47,667.74 C605.02,667.33 607.57,666.92 610.12,666.50 C612.66,666.07 615.21,665.65 617.76,665.21 C620.30,664.78 622.85,664.34 625.39,663.90 C627.94,663.45 630.48,663.00 633.03,662.55 C635.57,662.09 638.12,661.63 640.66,661.16 C643.20,660.69 645.74,660.22 648.28,659.74 C650.82,659.26 653.36,658.78 655.90,658.29 C658.44,657.79 660.98,657.30 663.52,656.79 C666.06,656.29 668.60,655.78 671.13,655.27 C673.67,654.75 676.19,654.10 678.74,653.70 C681.28,653.31 685.12,653.03 686.40,652.90" fill="none" stroke="#0000ff" stroke-width="4.1"/>
</g>
<line x1="68.00" y1="557.50" x2="697.00" y2="557.50" stroke="#000" stroke-width="3.30" stroke-dasharray="11 4.86" stroke-dashoffset="3.30"/>
<line x1="79.60" y1="894.55" x2="79.60" y2="888.25" stroke="#000" stroke-width="3.60"/>
<line x1="99.77" y1="894.55" x2="99.77" y2="891.25" stroke="#000" stroke-width="3.60"/>
<line x1="119.95" y1="894.55" x2="119.95" y2="891.25" stroke="#000" stroke-width="3.60"/>
<line x1="140.12" y1="894.55" x2="140.12" y2="891.25" stroke="#000" stroke-width="3.60"/>
<line x1="160.30" y1="894.55" x2="160.30" y2="888.25" stroke="#000" stroke-width="3.60"/>
<line x1="180.47" y1="894.55" x2="180.47" y2="891.25" stroke="#000" stroke-width="3.60"/>
<line x1="200.65" y1="894.55" x2="200.65" y2="891.25" stroke="#000" stroke-width="3.60"/>
<line x1="220.83" y1="894.55" x2="220.83" y2="891.25" stroke="#000" stroke-width="3.60"/>
<line x1="241.00" y1="894.55" x2="241.00" y2="888.25" stroke="#000" stroke-width="3.60"/>
<line x1="261.18" y1="894.55" x2="261.18" y2="891.25" stroke="#000" stroke-width="3.60"/>
<line x1="281.35" y1="894.55" x2="281.35" y2="891.25" stroke="#000" stroke-width="3.60"/>
<line x1="301.52" y1="894.55" x2="301.52" y2="891.25" stroke="#000" stroke-width="3.60"/>
<line x1="321.70" y1="894.55" x2="321.70" y2="888.25" stroke="#000" stroke-width="3.60"/>
<line x1="341.88" y1="894.55" x2="341.88" y2="891.25" stroke="#000" stroke-width="3.60"/>
<line x1="362.05" y1="894.55" x2="362.05" y2="891.25" stroke="#000" stroke-width="3.60"/>
<line x1="382.23" y1="894.55" x2="382.23" y2="891.25" stroke="#000" stroke-width="3.60"/>
<line x1="402.40" y1="894.55" x2="402.40" y2="888.25" stroke="#000" stroke-width="3.60"/>
<line x1="422.58" y1="894.55" x2="422.58" y2="891.25" stroke="#000" stroke-width="3.60"/>
<line x1="442.75" y1="894.55" x2="442.75" y2="891.25" stroke="#000" stroke-width="3.60"/>
<line x1="462.93" y1="894.55" x2="462.93" y2="891.25" stroke="#000" stroke-width="3.60"/>
<line x1="483.10" y1="894.55" x2="483.10" y2="888.25" stroke="#000" stroke-width="3.60"/>
<line x1="503.27" y1="894.55" x2="503.27" y2="891.25" stroke="#000" stroke-width="3.60"/>
<line x1="523.45" y1="894.55" x2="523.45" y2="891.25" stroke="#000" stroke-width="3.60"/>
<line x1="543.62" y1="894.55" x2="543.62" y2="891.25" stroke="#000" stroke-width="3.60"/>
<line x1="563.80" y1="894.55" x2="563.80" y2="888.25" stroke="#000" stroke-width="3.60"/>
<line x1="583.98" y1="894.55" x2="583.98" y2="891.25" stroke="#000" stroke-width="3.60"/>
<line x1="604.15" y1="894.55" x2="604.15" y2="891.25" stroke="#000" stroke-width="3.60"/>
<line x1="624.33" y1="894.55" x2="624.33" y2="891.25" stroke="#000" stroke-width="3.60"/>
<line x1="644.50" y1="894.55" x2="644.50" y2="888.25" stroke="#000" stroke-width="3.60"/>
<line x1="664.68" y1="894.55" x2="664.68" y2="891.25" stroke="#000" stroke-width="3.60"/>
<line x1="684.85" y1="894.55" x2="684.85" y2="891.25" stroke="#000" stroke-width="3.60"/>
<line x1="68.45" y1="888.50" x2="74.75" y2="888.50" stroke="#000" stroke-width="3.60"/>
<line x1="68.45" y1="870.03" x2="71.75" y2="870.03" stroke="#000" stroke-width="3.60"/>
<line x1="68.45" y1="851.56" x2="71.75" y2="851.56" stroke="#000" stroke-width="3.60"/>
<line x1="68.45" y1="833.09" x2="71.75" y2="833.09" stroke="#000" stroke-width="3.60"/>
<line x1="68.45" y1="814.62" x2="71.75" y2="814.62" stroke="#000" stroke-width="3.60"/>
<line x1="68.45" y1="796.15" x2="74.75" y2="796.15" stroke="#000" stroke-width="3.60"/>
<line x1="68.45" y1="777.68" x2="71.75" y2="777.68" stroke="#000" stroke-width="3.60"/>
<line x1="68.45" y1="759.21" x2="71.75" y2="759.21" stroke="#000" stroke-width="3.60"/>
<line x1="68.45" y1="740.74" x2="71.75" y2="740.74" stroke="#000" stroke-width="3.60"/>
<line x1="68.45" y1="722.27" x2="71.75" y2="722.27" stroke="#000" stroke-width="3.60"/>
<line x1="68.45" y1="703.80" x2="74.75" y2="703.80" stroke="#000" stroke-width="3.60"/>
<line x1="68.45" y1="685.33" x2="71.75" y2="685.33" stroke="#000" stroke-width="3.60"/>
<line x1="68.45" y1="666.86" x2="71.75" y2="666.86" stroke="#000" stroke-width="3.60"/>
<line x1="68.45" y1="648.39" x2="71.75" y2="648.39" stroke="#000" stroke-width="3.60"/>
<line x1="68.45" y1="629.92" x2="71.75" y2="629.92" stroke="#000" stroke-width="3.60"/>
<line x1="68.45" y1="611.45" x2="74.75" y2="611.45" stroke="#000" stroke-width="3.60"/>
<line x1="68.45" y1="592.98" x2="71.75" y2="592.98" stroke="#000" stroke-width="3.60"/>
<line x1="68.45" y1="574.51" x2="71.75" y2="574.51" stroke="#000" stroke-width="3.60"/>
<line x1="68.45" y1="556.04" x2="71.75" y2="556.04" stroke="#000" stroke-width="3.60"/>
<line x1="68.45" y1="537.57" x2="71.75" y2="537.57" stroke="#000" stroke-width="3.60"/>
<line x1="68.45" y1="519.10" x2="74.75" y2="519.10" stroke="#000" stroke-width="3.60"/>
<rect x="67.00" y="499.00" width="630.00" height="397.00" fill="none" stroke="#000" stroke-width="3.90"/>
<line x1="327.30" y1="624.40" x2="223.38" y2="654.67" stroke="#000" stroke-width="3.80"/><polygon points="203.70,660.40 225.75,646.69 223.38,654.67 229.66,660.13" fill="#000"/>
<line x1="482.90" y1="770.20" x2="409.76" y2="793.16" stroke="#000" stroke-width="3.80"/><polygon points="390.20,799.30 411.96,785.13 409.76,793.16 416.15,798.49" fill="#000"/>
<text x="363.50" y="541.10" font-size="35.10" text-anchor="middle">Magnetically ordered&#160; phase</text>
<text x="101.60" y="637.40" font-size="35.80" text-anchor="start">TMI</text>
<text x="327.40" y="637.70" font-size="35.80" text-anchor="start">TMI<tspan font-size="28" dx="-1.5" dy="-5">*</tspan></text>
<text x="493.40" y="637.30" font-size="36.30" text-anchor="start">MI + QSL</text>
<text x="117.00" y="778.60" font-size="35.80" text-anchor="start"><tspan font-style="italic">Z</tspan></text>
<text x="136.7" y="781.3" font-size="13" font-family="Liberation Sans">2</text>
<text x="148.80" y="778.60" font-size="35.80" text-anchor="start">TI</text>
<text x="484.30" y="781.60" font-size="35.80" text-anchor="start">TSM</text>
<text x="598.80" y="781.60" font-size="32.50" text-anchor="start">M</text>
<text x="91.70" y="879.80" font-size="49.00" text-anchor="start">(b)</text>
<text x="382.30" y="992.70" font-size="36.00" text-anchor="middle"><tspan font-style="italic">&#945;</tspan></text>
<text x="61.00" y="900.50" font-size="34.00" text-anchor="end">0</text>
<text x="61.00" y="808.15" font-size="34.00" text-anchor="end">1</text>
<text x="61.00" y="715.80" font-size="34.00" text-anchor="end">2</text>
<text x="61.00" y="623.45" font-size="34.00" text-anchor="end">3</text>
<text x="61.00" y="531.10" font-size="34.00" text-anchor="end">4</text>
<text x="79.60" y="936.00" font-size="35.00" text-anchor="middle">0.0</text>
<text x="160.30" y="936.00" font-size="35.00" text-anchor="middle">0.2</text>
<text x="241.00" y="936.00" font-size="35.00" text-anchor="middle">0.4</text>
<text x="321.70" y="936.00" font-size="35.00" text-anchor="middle">0.6</text>
<text x="402.40" y="936.00" font-size="35.00" text-anchor="middle">0.8</text>
<text x="483.10" y="936.00" font-size="35.00" text-anchor="middle">1.0</text>
<text x="563.80" y="936.00" font-size="35.00" text-anchor="middle">1.2</text>
<text x="644.50" y="936.00" font-size="35.00" text-anchor="middle">1.4</text>
<text x="23.2" y="698" font-size="34.6" text-anchor="middle" transform="rotate(-90 23.2 698)">U</text>
</svg>
</body></html>
